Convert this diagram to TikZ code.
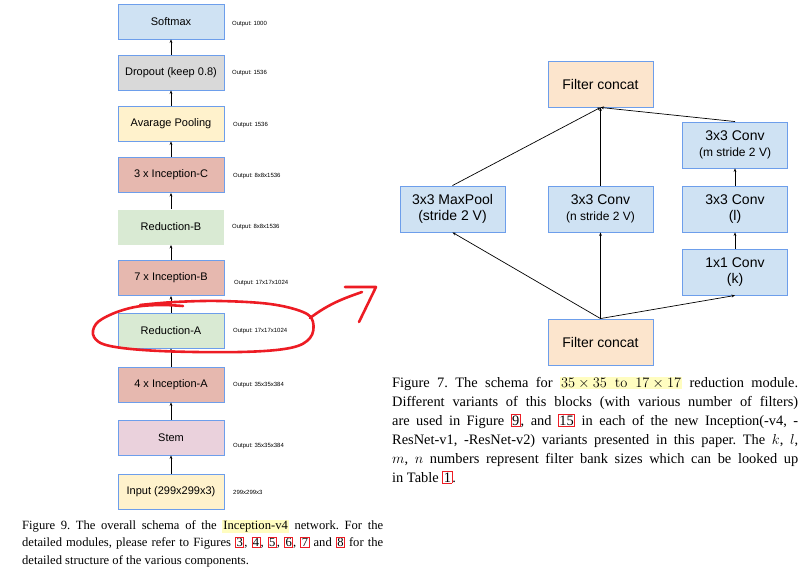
\documentclass[tikz,border=0pt]{standalone}
\usepackage[no-math]{fontspec}
\setmainfont{Liberation Serif}
\newfontfamily\arial{Liberation Sans}
\usetikzlibrary{arrows.meta}
\definecolor{bbord}{HTML}{6D9EEB}
\definecolor{cblue}{HTML}{CFE2F3}
\definecolor{cgrey}{HTML}{D9D9D9}
\definecolor{cyel}{HTML}{FFF2CC}
\definecolor{crose}{HTML}{E6B8AF}
\definecolor{cgreen}{HTML}{D9EAD3}
\definecolor{cpink}{HTML}{EAD1DC}
\definecolor{cpeach}{HTML}{FCE5CD}
\definecolor{penred}{RGB}{237,28,36}
\definecolor{hlyel}{RGB}{255,253,192}
\newcommand\refbx[1]{{\setlength\fboxsep{0.6pt}\setlength\fboxrule{0.8pt}\color{penred}\fbox{\color{black}#1}}}
\newcommand\yhl[1]{{\setlength\fboxsep{1pt}\colorbox{hlyel}{#1}}}
\tikzset{
 lbox/.style={draw=bbord, line width=0.9pt, minimum width=106pt, minimum height=35pt, inner sep=0pt, font=\arial\fontsize{11}{13}\selectfont},
 rbox/.style={draw=bbord, line width=0.9pt, fill=cblue, minimum width=105pt, minimum height=46pt, inner sep=0pt, align=center, font=\arial\fontsize{14}{16}\selectfont},
 outlbl/.style={anchor=west, inner sep=0pt, font=\arial\fontsize{6}{7}\selectfont},
 arr/.style={-{Stealth[length=3.5pt,width=2.8pt]}, line width=0.7pt},
 redpen/.style={draw=penred, line width=2.6pt, line cap=round, line join=round},
}
\begin{document}
\frenchspacing
\begin{tikzpicture}[x=1pt,y=-1pt]
\useasboundingbox (0,0) rectangle (808,575);
% left column
\node[lbox, fill=cblue] (soft) at (171,21.5) {Softmax};
\node[lbox, fill=cgrey] (drop) at (171,72.5) {Dropout (keep 0.8)};
\node[lbox, fill=cyel] (avg) at (171,123.5) {Avarage Pooling};
\node[lbox, fill=crose] (incC) at (171,175) {3 x Inception-C};
\node[lbox, fill=cgreen, draw=none] (redB) at (171,227) {Reduction-B};
\node[lbox, fill=crose] (incB) at (171,278) {7 x Inception-B};
\node[lbox, fill=cgreen] (redA) at (171,330.5) {Reduction-A};
\node[lbox, fill=crose] (incA) at (171,384.5) {4 x Inception-A};
\node[lbox, fill=cpink] (stem) at (171,437.5) {Stem};
\node[lbox, fill=cyel] (inp) at (171,491.5) {Input (299x299x3)};
\draw[arr] (inp.north) -- (stem.south);
\draw[arr] (stem.north) -- (incA.south);
\draw[arr] (incA.north) -- (redA.south);
\draw[arr] (redA.north) -- (incB.south);
\draw[arr] (incB.north) -- (redB.south);
\draw[arr] (redB.north) -- (incC.south);
\draw[arr] (incC.north) -- (avg.south);
\draw[arr] (avg.north) -- (drop.south);
\draw[arr] (drop.north) -- (soft.south);
\node[outlbl] (o1) at (232,24) {Output: 1000};
\node[outlbl] (o2) at (232,73) {Output: 1536};
\node[outlbl] (o3) at (233,125) {Output: 1536};
\node[outlbl] (o4) at (233,176) {Output: 8x8x1536};
\node[outlbl] (o5) at (232,227) {Output: 8x8x1536};
\node[outlbl] (o6) at (234,283) {Output: 17x17x1024};
\node[outlbl] (o7) at (233,331) {Output: 17x17x1024};
\node[outlbl] (o8) at (233,385) {Output: 35x35x384};
\node[outlbl] (o9) at (233,446) {Output: 35x35x384};
\node[outlbl] (o10) at (233,492) {299x299x3};
% right diagram
\node[rbox, fill=cpeach] (topc) at (600.5,84) {Filter concat};
\node[rbox] (maxp) at (452.5,209) {3x3 MaxPool\\(stride 2 V)};
\node[rbox] (convn) at (600.5,209) {3x3 Conv\\{\fontsize{12}{14}\selectfont(n stride 2 V)}};
\node[rbox] (convm) at (735,145) {3x3 Conv\\{\fontsize{12}{14}\selectfont(m stride 2 V)}};
\node[rbox] (convl) at (735,209) {3x3 Conv\\(l)};
\node[rbox] (convk) at (735,272) {1x1 Conv\\(k)};
\node[rbox, fill=cpeach] (botc) at (600.5,342) {Filter concat};
\draw[arr] (botc.north) -- (maxp.south);
\draw[arr] (botc.north) -- (convn.south);
\draw[arr] (botc.north) -- (convk.south);
\draw[arr] (convk.north) -- (convl.south);
\draw[arr] (convl.north) -- (convm.south);
\draw[arr] (maxp.north) -- (topc.south);
\draw[arr] (convn.north) -- (topc.south);
\draw[arr] (convm.north) -- (topc.south);
% red annotation
\draw[redpen] plot[smooth, tension=0.6] coordinates {(183,306) (160,305) (135,307) (112,314) (96,324) (94,337) (110,346) (160,351) (240,352) (290,348) (310,338) (313,322) (303,312) (270,304) (220,301) (175,302) (140,305)};
\draw[redpen] (310,318) .. controls (330,303) and (345,298) .. (362,292);
\draw[redpen] (345,287) -- (376,287) -- (359,322);
% captions
\node[anchor=base west, inner sep=0pt] (cap9) at (22,529) {\parbox[t]{361pt}{\fontsize{12.6}{17.5}\selectfont
Figure 9. The overall schema of the \yhl{Inception-v4} network. For the\linebreak
detailed modules, please refer to Figures \refbx{3}, \refbx{4}, \refbx{5}, \refbx{6}, \refbx{7} and \refbx{8} for the\linebreak
detailed structure of the various components.}};
\node[anchor=base west, inner sep=0pt] (cap7) at (392,387) {\parbox[t]{406pt}{\fontsize{14.4}{19}\selectfont
Figure 7. The schema for \yhl{$35\times35\;\;\mathrm{to}\;\;17\times17$} reduction module.\linebreak
Different variants of this blocks (with various number of filters)\linebreak
are used in Figure \refbx{9}, and \refbx{15} in each of the new Inception(-v4, -\linebreak
ResNet-v1, -ResNet-v2) variants presented in this paper. The $k$, $l$,\linebreak
$m$, $n$ numbers represent filter bank sizes which can be looked up\linebreak
in Table \refbx{1}.}};
\end{tikzpicture}
\end{document}
